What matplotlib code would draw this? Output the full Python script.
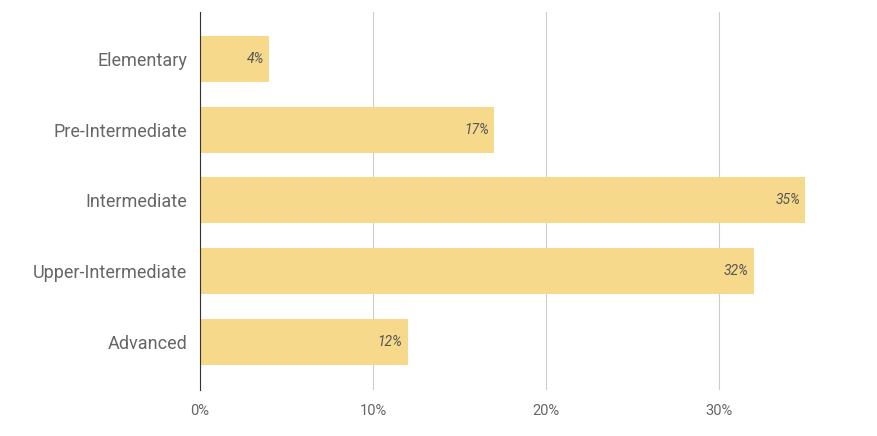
import matplotlib
matplotlib.use("Agg")
import matplotlib.pyplot as plt

categories = ["Elementary", "Pre-Intermediate", "Intermediate", "Upper-Intermediate", "Advanced"]
values = [4, 17, 35, 32, 12]
xticks = [0, 10, 20, 30]
xticklabels = ["0%", "10%", "20%", "30%"]

plt.rcParams['font.family'] = ['Roboto', 'DejaVu Sans']
fig = plt.figure(figsize=(8.77, 4.36), dpi=100)
ax = fig.add_axes([200/877, 46/436, 666/877, 378/436])
y = list(range(len(categories)))
ax.barh(y, values, height=0.65, color="#F7D98B", zorder=2)
for yi, v in zip(y, values):
    ax.text(v - 0.3, yi, f"{v}%", ha="right", va="center", style="italic",
            fontsize=10, color="#555555", zorder=3)
ax.set_ylim(4.68, -0.66)
ax.set_xlim(0, 38.5)
ax.set_yticks(y)
ax.set_yticklabels(categories, fontsize=13, color="#666666")
ax.set_xticks(xticks)
ax.set_xticklabels(xticklabels, fontsize=10.5, color="#666666")
ax.tick_params(length=0, pad=9)
ax.tick_params(axis='x', pad=10)
ax.grid(axis='x', color="#cccccc", linewidth=0.8, zorder=1)
for s in ["top", "right", "bottom"]:
    ax.spines[s].set_visible(False)
ax.spines["left"].set_color("#333333")
ax.spines["left"].set_linewidth(0.8)
fig.savefig("out.png", dpi=100)
